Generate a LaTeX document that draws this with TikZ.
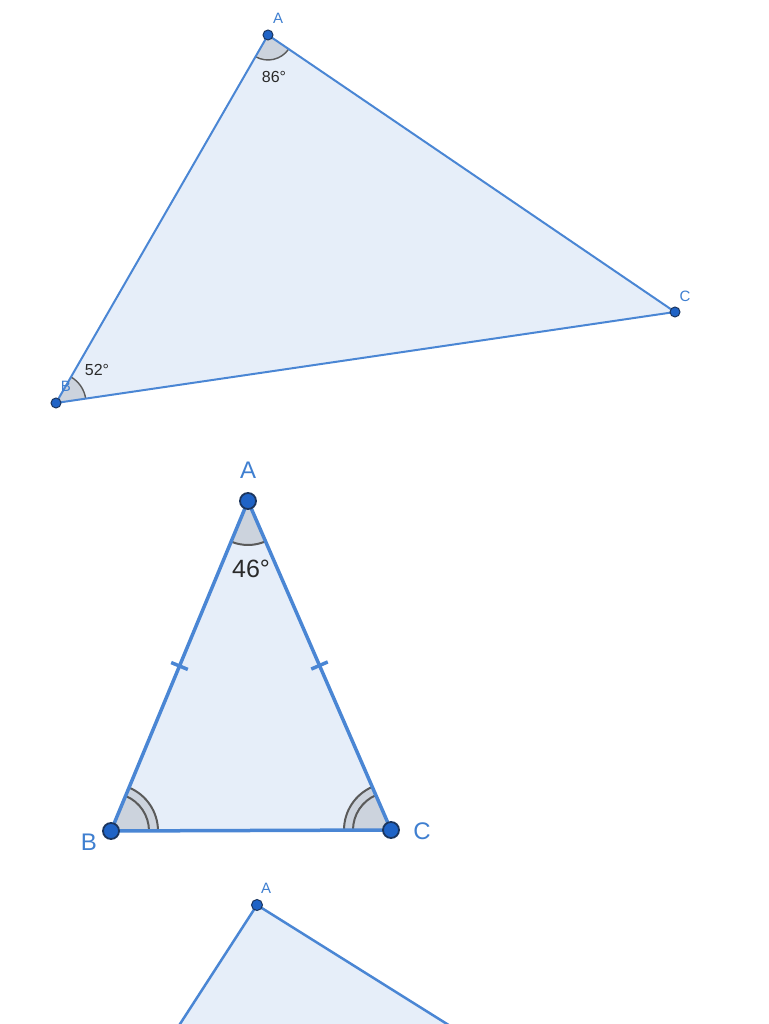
\documentclass[tikz,border=0pt]{standalone}
\usepackage{fontspec}
\setmainfont{Liberation Sans}
\usetikzlibrary{calc,angles}
\definecolor{edgeblue}{HTML}{4A86D4}
\definecolor{fillblue}{HTML}{E6EEF9}
\definecolor{dotblue}{HTML}{1F63C6}
\definecolor{dotrim}{HTML}{1B355E}
\definecolor{angfill}{HTML}{CCD3DD}
\definecolor{angline}{HTML}{5A5A5A}
\definecolor{lblblue}{HTML}{3F7FD0}
\definecolor{txtdark}{HTML}{2A2A2A}
\tikzset{
  tri/.style={draw=edgeblue, fill=fillblue, line join=round},
  vdot/.style={circle, draw=dotrim, fill=dotblue, inner sep=0pt, line width=1pt},
  vlbl/.style={text=lblblue, inner sep=0pt},
  albl/.style={text=txtdark, inner sep=0pt},
  angmark/.style={draw=angline, fill=angfill},
  angline2/.style={draw=angline},
}
\begin{document}
\begin{tikzpicture}[x=1pt,y=1pt]
\useasboundingbox (0,0) rectangle (768,1024);
\clip (0,0) rectangle (768,1024);
% ---------- top triangle ----------
\coordinate (tA) at (268,989);
\coordinate (tB) at (56,621);
\coordinate (tC) at (675,712);
\fill[fillblue] (tA) -- (tB) -- (tC) -- cycle;
\pic[angmark, line width=1.4pt, angle radius=25pt] {angle=tB--tA--tC};
\pic[angmark, line width=1.4pt, angle radius=30pt] {angle=tC--tB--tA};
\draw[tri, fill=none, line width=2pt] (tA) -- (tB) -- (tC) -- cycle;
\node[vdot, minimum size=10pt] (dtA) at (tA) {};
\node[vdot, minimum size=10pt] (dtB) at (tB) {};
\node[vdot, minimum size=10pt] (dtC) at (tC) {};
\node[vlbl, font=\fontsize{15}{15}\selectfont] (ltA) at (278,1006) {A};
\node[vlbl, font=\fontsize{15}{15}\selectfont] (ltB) at (66,638) {B};
\node[vlbl, font=\fontsize{15}{15}\selectfont] (ltC) at (685,728) {C};
\node[albl, font=\fontsize{16}{16}\selectfont] (at86) at (274,947) {86°};
\node[albl, font=\fontsize{16}{16}\selectfont] (at52) at (97,654) {52°};
% ---------- middle triangle ----------
\coordinate (mA) at (248,523);
\coordinate (mB) at (111,193);
\coordinate (mC) at (391,194);
\fill[fillblue] (mA) -- (mB) -- (mC) -- cycle;
\pic[angmark, line width=2pt, angle radius=44pt] {angle=mB--mA--mC};
\pic[angmark, line width=2pt, angle radius=47pt] {angle=mC--mB--mA};
\pic[angline2, line width=2pt, angle radius=38pt] {angle=mC--mB--mA};
\pic[angmark, line width=2pt, angle radius=47pt] {angle=mA--mC--mB};
\pic[angline2, line width=2pt, angle radius=38pt] {angle=mA--mC--mB};
\draw[tri, fill=none, line width=3.5pt] (mA) -- (mB) -- (mC) -- cycle;
\coordinate (mAB) at ($(mA)!0.5!(mB)$);
\coordinate (mAC) at ($(mA)!0.5!(mC)$);
\draw[edgeblue, line width=3.5pt] ($(mAB)!9pt!90:(mB)$) -- ($(mAB)!9pt!-90:(mB)$);
\draw[edgeblue, line width=3.5pt] ($(mAC)!9pt!90:(mC)$) -- ($(mAC)!9pt!-90:(mC)$);
\node[vdot, minimum size=16pt, line width=1.8pt] (dmA) at (mA) {};
\node[vdot, minimum size=16pt, line width=1.8pt] (dmB) at (mB) {};
\node[vdot, minimum size=16pt, line width=1.8pt] (dmC) at (mC) {};
\node[vlbl, font=\fontsize{24}{24}\selectfont] (lmA) at (248,554) {A};
\node[vlbl, font=\fontsize{24}{24}\selectfont] (lmB) at (89,182) {B};
\node[vlbl, font=\fontsize{24}{24}\selectfont] (lmC) at (422,193) {C};
\node[albl, font=\fontsize{25}{25}\selectfont] (am46) at (251,455) {46°};
% ---------- bottom triangle ----------
\coordinate (bA) at (257,119);
\coordinate (bB) at (141.5,-59.5);
\coordinate (bC) at (637,-119);
\draw[tri, line width=2.5pt] (bA) -- (bB) -- (bC) -- cycle;
\node[vdot, minimum size=11pt] (dbA) at (bA) {};
\node[vlbl, font=\fontsize{15}{15}\selectfont] (lbA) at (266,136) {A};
\end{tikzpicture}
\end{document}
